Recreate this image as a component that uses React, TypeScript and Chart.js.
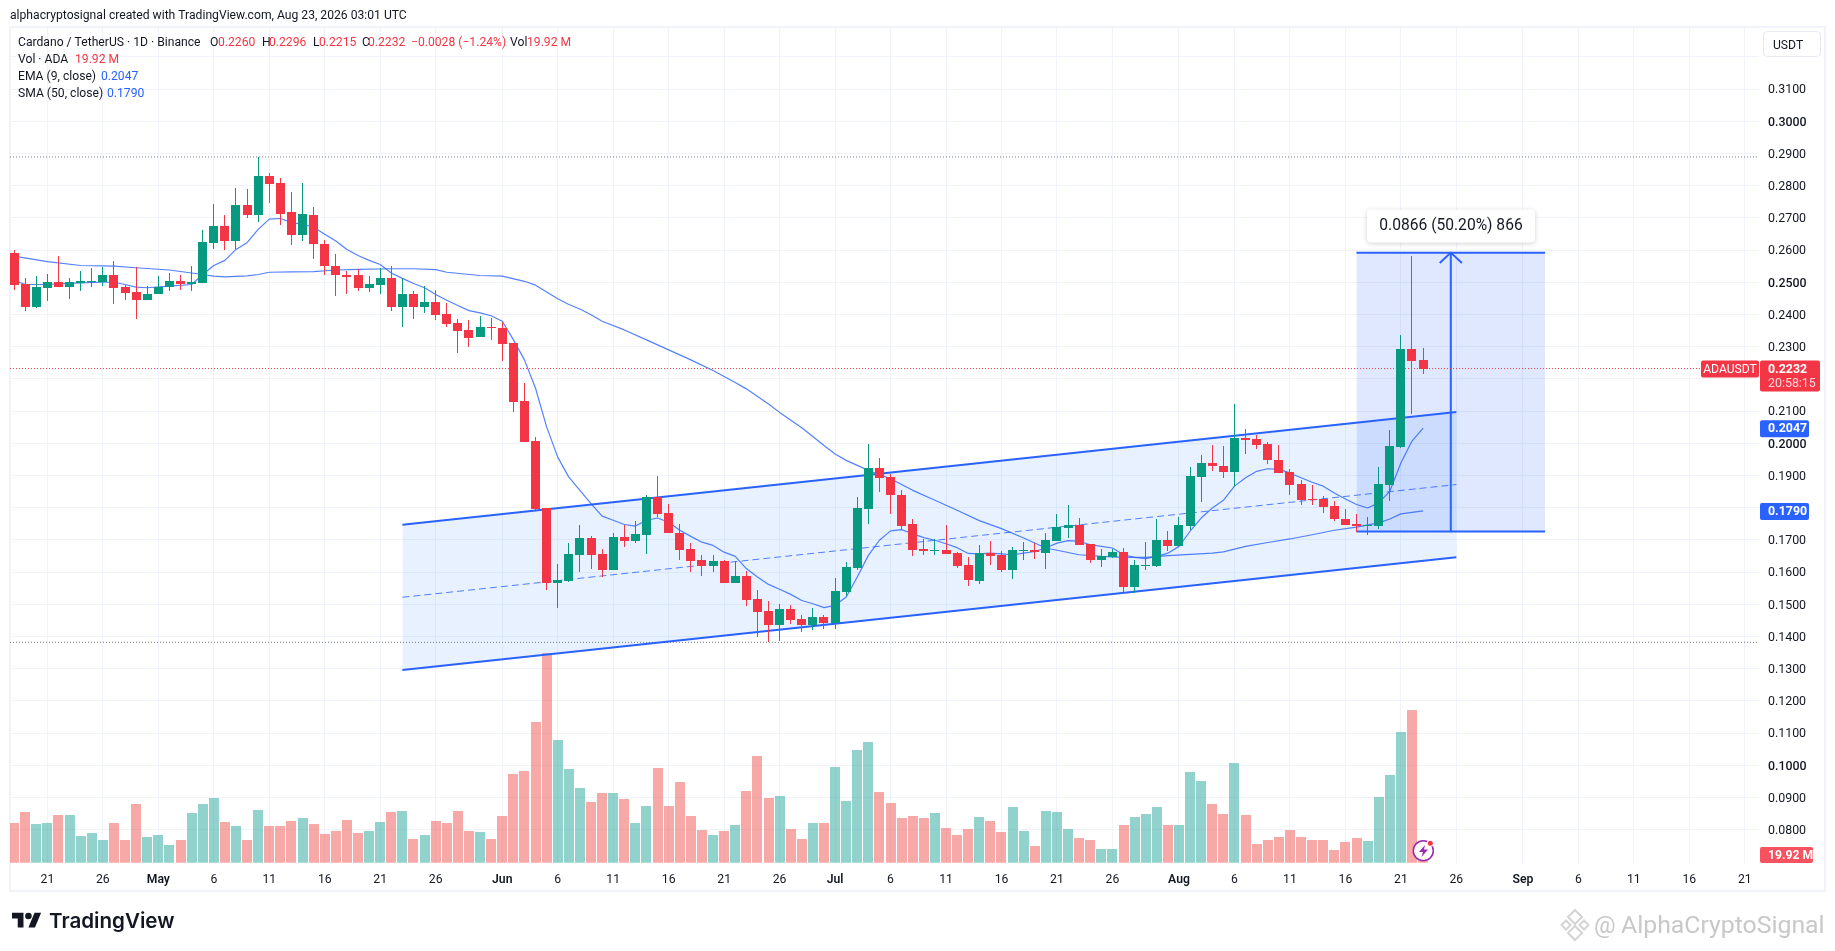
import React, { useEffect, useRef } from "react";
import { Chart, registerables } from "chart.js";

Chart.register(...registerables);

// Daily candles Apr 18 .. Aug 23 (array index = day number)
const opens = [.2590,.2496,.2424,.2481,.2502,.2484,.2499,.2502,.2502,.2524,.2484,.2471,.2446,.2462,.2484,.2505,.2496,.2499,.2621,.2674,.2627,.2740,.2708,.2830,.2808,.2717,.2648,.2708,.2618,.2552,.2524,.2521,.2481,.2493,.2512,.2424,.2465,.2424,.2440,.2403,.2375,.2353,.2331,.2362,.2359,.2312,.2131,.2007,.1799,.1565,.1572,.1652,.1705,.1655,.1606,.1708,.1696,.1714,.1832,.1785,.1723,.1671,.1637,.1618,.1634,.1565,.1587,.1516,.1479,.1435,.1485,.1454,.1435,.1460,.1441,.1537,.1612,.1795,.1922,.1894,.1841,.1748,.1671,.1665,.1668,.1658,.1621,.1573,.1660,.1654,.1607,.1667,.1670,.1660,.1698,.1738,.1747,.1688,.1639,.1648,.1663,.1555,.1620,.1620,.1701,.1682,.1744,.1894,.1940,.1931,.1912,.2015,.2012,.1999,.1947,.1912,.1875,.1828,.1828,.1806,.1766,.1750,.1744,.1744,.1872,.1988,.2292,.2260];
const highs = [.2599,.2512,.2518,.2527,.2580,.2512,.2534,.2543,.2546,.2565,.2490,.2546,.2487,.2518,.2530,.2521,.2552,.2661,.2742,.2708,.2792,.2789,.2889,.2839,.2824,.2780,.2808,.2733,.2630,.2587,.2534,.2540,.2518,.2543,.2549,.2512,.2474,.2487,.2477,.2437,.2387,.2384,.2396,.2390,.2378,.2312,.2188,.2019,.1799,.1624,.1689,.1745,.1711,.1671,.1720,.1745,.1758,.1838,.1900,.1813,.1751,.1689,.1652,.1652,.1637,.1634,.1602,.1544,.1510,.1500,.1497,.1466,.1488,.1466,.1581,.1630,.1832,.1999,.1953,.1906,.1854,.1764,.1702,.1702,.1745,.1664,.1646,.1685,.1698,.1667,.1679,.1695,.1691,.1722,.1779,.1810,.1769,.1688,.1673,.1673,.1676,.1639,.1695,.1766,.1729,.1772,.1925,.1965,.1996,.1993,.2121,.2043,.2027,.2003,.1996,.1919,.1887,.1869,.1835,.1822,.1797,.1782,.1772,.1925,.2040,.2335,.2583,.2296];
const lows = [.2477,.2412,.2421,.2443,.2484,.2449,.2474,.2484,.2487,.2434,.2446,.2387,.2446,.2462,.2474,.2477,.2474,.2499,.2602,.2599,.2602,.2699,.2686,.2746,.2677,.2615,.2627,.2571,.2524,.2456,.2465,.2474,.2471,.2462,.2412,.2362,.2387,.2406,.2384,.2362,.2281,.2300,.2331,.2322,.2256,.2097,.2004,.1792,.1544,.1488,.1570,.1599,.1609,.1584,.1606,.1677,.1689,.1655,.1770,.1720,.1637,.1599,.1587,.1599,.1565,.1565,.1494,.1398,.1382,.1386,.1438,.1413,.1420,.1423,.1423,.1525,.1606,.1751,.1850,.1779,.1730,.1649,.1652,.1652,.1655,.1612,.1557,.1564,.1623,.1601,.1579,.1639,.1642,.1611,.1698,.1707,.1685,.1629,.1617,.1645,.1539,.1536,.1607,.1617,.1667,.1682,.1732,.1819,.1915,.1891,.1863,.1968,.1981,.1937,.1909,.1841,.1810,.1807,.1785,.1760,.1747,.1726,.1716,.1735,.1822,.1985,.2090,.2215];
const closes = [.2491,.2424,.2484,.2502,.2484,.2502,.2505,.2505,.2524,.2481,.2468,.2446,.2465,.2484,.2505,.2496,.2502,.2624,.2674,.2627,.2740,.2708,.2830,.2805,.2711,.2648,.2711,.2618,.2552,.2521,.2515,.2481,.2496,.2512,.2424,.2462,.2424,.2440,.2399,.2371,.2350,.2328,.2362,.2359,.2309,.2128,.2004,.1795,.1565,.1575,.1655,.1705,.1652,.1606,.1708,.1696,.1717,.1832,.1782,.1720,.1668,.1634,.1618,.1634,.1565,.1587,.1513,.1475,.1435,.1485,.1451,.1435,.1460,.1441,.1541,.1615,.1798,.1922,.1891,.1838,.1742,.1668,.1665,.1668,.1655,.1618,.1575,.1660,.1651,.1607,.1670,.1670,.1664,.1701,.1741,.1747,.1685,.1639,.1651,.1663,.1555,.1623,.1623,.1701,.1682,.1747,.1897,.1940,.1931,.1912,.2015,.2009,.1996,.1947,.1909,.1872,.1825,.1825,.1803,.1766,.1747,.1744,.1747,.1875,.1993,.2292,.2257,.2232];
// Volume in millions
const volumes = [300,382,292,300,360,360,202,225,172,300,172,442,195,210,135,172,375,442,487,307,277,172,397,277,277,315,337,292,217,240,322,225,240,307,382,390,180,210,315,300,390,240,232,180,352,667,690,1057,1572,922,705,562,457,525,525,480,300,427,712,427,607,352,247,210,240,285,540,802,487,502,255,180,300,300,720,465,847,907,532,450,337,352,337,375,262,210,255,345,315,232,420,240,127,390,382,255,187,172,105,105,285,345,367,420,285,285,682,615,442,367,750,360,142,172,195,247,195,172,172,97,157,187,165,495,660,982,1147,19.92];

const emaDays = [0.4,1,3,6,8,9,10,11,12,14,16,17,18,19,20,21,22,23,24,25,26,27,28,29,30,31,32,33,34,35,36,37,38,39,40,41,42,43,44,45,46,47,48,49,50,51,52,53,54,55,56,57,58,59,60,61,62,63,64,65,66,67,68,69,70,71,72,73,74,75,76,77,78,79,80,81,82,83,84,85,86,87,88,89,90,91,92,93,94,95,96,97,98,99,100,101,102,103,104,105,106,107,108,109,110,111,112,113,114,115,116,117,118,119,120,121,122,123,124,125,126,127];
const emaValues = [.2501,.2493,.2493,.2498,.2500,.2500,.2493,.2485,.2483,.2488,.2493,.2524,.2552,.2568,.2602,.2623,.2664,.2696,.2698,.2685,.2680,.2671,.2649,.2628,.2602,.2583,.2568,.2555,.2529,.2512,.2496,.2483,.2462,.2444,.2428,.2412,.2405,.2396,.2379,.2322,.2259,.2171,.2051,.1957,.1895,.1854,.1813,.1774,.1761,.1748,.1743,.1761,.1768,.1755,.1730,.1711,.1693,.1683,.1662,.1649,.1611,.1585,.1562,.1547,.1531,.1512,.1502,.1490,.1497,.1523,.1585,.1652,.1699,.1728,.1732,.1719,.1707,.1699,.1688,.1676,.1658,.1657,.1659,.1657,.1654,.1659,.1664,.1675,.1690,.1698,.1696,.1685,.1680,.1675,.1654,.1646,.1642,.1649,.1659,.1680,.1727,.1768,.1799,.1823,.1867,.1893,.1913,.1921,.1919,.1908,.1893,.1879,.1867,.1846,.1827,.1810,.1799,.1815,.1851,.1939,.2007,.2047];
const smaDays = [0.4,3,6,9,11,14,17,18,19,21,22,23,25,27,29,31,34,36,38,39,42,44,46,47,49,50,51,52,53,55,57,59,61,63,65,66,68,69,71,73,74,75,77,79,81,83,85,87,89,91,93,94,96,98,100,102,104,106,108,109,111,113,115,117,119,121,123,124,125,127];
const smaValues = [.2579,.2564,.2552,.2550,.2545,.2538,.2524,.2519,.2517,.2520,.2524,.2531,.2532,.2533,.2538,.2540,.2542,.2542,.2539,.2531,.2521,.2519,.2503,.2491,.2449,.2431,.2417,.2399,.2379,.2352,.2321,.2290,.2259,.2226,.2189,.2169,.2122,.2096,.2048,.1993,.1967,.1947,.1916,.1890,.1854,.1823,.1792,.1760,.1735,.1706,.1675,.1668,.1654,.1649,.1646,.1646,.1651,.1655,.1659,.1663,.1680,.1692,.1703,.1716,.1730,.1740,.1753,.1765,.1781,.1790];

// Parallel channel drawing
const channelDays = [35, 130];
const channelUpper = [.1747, .2097];
const channelMiddle = [.1522, .1872];
const channelLower = [.1296, .1646];
// Price-range measure drawing
const measureDays = [121, 138];
const measureTop = .2592;
const measureBottom = .1726;
const measureCenterDay = 129.5;
const arrowDays = [128.5, 129.5, 130.5];
const arrowValues = [.2560, .2592, .2560];
const measureLabel = "0.0866 (50.20%) 866";
// Horizontal dotted levels
const highLevel = .2889;
const lowLevel = .1382;
const lastPrice = .2232;
const emaLast = .2047;
const smaLast = .1790;

const tickDays = [3,8,13,18,23,28,33,38,44,49,54,59,64,69,74,79,84,89,94,99,105,110,115,120,125,130,136,141,146,151,156];
const tickLabels = ["21","26","May","6","11","16","21","26","Jun","6","11","16","21","26","Jul","6","11","16","21","26","Aug","6","11","16","21","26","Sep","6","11","16","21"];
const monthLabels = ["May","Jun","Jul","Aug","Sep"];
const priceTicks = [.08,.09,.10,.11,.12,.13,.14,.15,.16,.17,.18,.19,.20,.21,.22,.23,.24,.25,.26,.27,.28,.29,.30,.31,.32];
const hiddenPriceTicks = [.32];
const roundPriceTicks = [.10,.20,.25,.30];

const GREEN = "#089981";
const RED = "#F23645";
const BLUE = "#2962FF";
const VOL_GREEN = "rgba(38,166,154,0.5)";
const VOL_RED = "rgba(239,83,80,0.5)";
const TEXT = "#131722";
const GRID = "#f0f3fa";
const FONT = 'Roboto, "Noto Sans", sans-serif';

const X_MIN = -0.37;
const X_MAX = 157.28;

const snapBars = {
  id: "snapBars",
  afterDatasetsUpdate(chart: any) {
    chart.data.datasets.forEach((ds: any, i: number) => {
      if (ds.type !== "bar") return;
      chart.getDatasetMeta(i).data.forEach((el: any) => {
        el.x = ds.snapEven ? Math.round(el.x) : Math.floor(el.x) + 0.5;
        el.y = Math.round(el.y);
        el.base = Math.round(el.base);
        if (Math.abs(el.base - el.y) < 1) el.base = el.y + 1;
      });
    });
  },
  // nudge the price-axis label text onto the reference's optical centre
  beforeDraw(chart: any) {
    const items = chart.scales.y.getLabelItems();
    items.forEach((it: any) => {
      if (it.nudged) return;
      it.nudged = true;
      it.options = { ...it.options, translation: [it.options.translation[0], it.options.translation[1] + 1.2] };
    });
  },
};

function txt(ctx: any, s: string, x: number, y: number, color: string, font = `12.15px ${FONT}`, align = "left") {
  ctx.font = font;
  ctx.fillStyle = color;
  ctx.textAlign = align;
  ctx.textBaseline = "middle";
  ctx.fillText(s, x, y);
}

function badge(ctx: any, x0: number, x1: number, y0: number, y1: number, color: string) {
  ctx.fillStyle = color;
  ctx.beginPath();
  ctx.roundRect(x0, y0, x1 - x0, y1 - y0, 2);
  ctx.fill();
}

const overlay = {
  id: "overlay",
  beforeDraw(chart: any) {
    const ctx = chart.ctx;
    ctx.save();
    ctx.fillStyle = "#ffffff";
    ctx.fillRect(0, 0, 1835, 951);
    ctx.strokeStyle = GRID;
    ctx.lineWidth = 2;
    ctx.strokeRect(10, 27, 1815, 864);
    ctx.restore();
  },
  afterDraw(chart: any) {
    const ctx = chart.ctx;
    const y = chart.scales.y;
    ctx.save();
    // Header
    txt(ctx, "alphacryptosignal created with TradingView.com, Aug 23, 2026 03:01 UTC", 10, 16, TEXT);
    // Legend
    const L1 = 43, L2 = 60, L3 = 77, L4 = 94;
    txt(ctx, "Cardano / TetherUS · 1D · Binance", 18, L1, TEXT);
    const pairs: [string, number, string][] = [
      ["O", 210, TEXT], ["0.2260", 218, RED], ["H", 262, TEXT], ["0.2296", 269, RED], ["L", 313, TEXT], ["0.2215", 319, RED],
      ["C", 362, TEXT], ["0.2232", 368, RED], ["−0.0028 (−1.24%)", 411, RED], ["Vol", 510, TEXT], ["19.92 M", 527, RED],
    ];
    pairs.forEach(([s, x, c]) => txt(ctx, s, x, L1, c));
    txt(ctx, "Vol · ADA", 18, L2, TEXT);
    txt(ctx, "19.92 M", 75, L2, RED);
    txt(ctx, "EMA (9, close)", 18, L3, TEXT);
    txt(ctx, "0.2047", 101, L3, BLUE);
    txt(ctx, "SMA (50, close)", 18, L4, TEXT);
    txt(ctx, "0.1790", 107, L4, BLUE);

    // USDT button
    ctx.fillStyle = "#fff";
    ctx.strokeStyle = "#e6e9f0";
    ctx.lineWidth = 1;
    ctx.beginPath();
    ctx.roundRect(1763.5, 31.5, 57, 25, 4);
    ctx.fill();
    ctx.stroke();
    txt(ctx, "USDT", 1773, 46, TEXT);

    // Price axis badges
    const py = y.getPixelForValue(lastPrice);
    badge(ctx, 1701, 1759, py - 8, py + 9, RED);
    txt(ctx, "ADAUSDT", 1730, py + 1, "#fff", `12.15px ${FONT}`, "center");
    badge(ctx, 1760, 1820, py - 8, py + 23, RED);
    txt(ctx, "0.2232", 1768, py + 1, "#fff", `bold 12.4px ${FONT}`);
    txt(ctx, "20:58:15", 1768, py + 15, "#ffd5d9", `12.4px ${FONT}`);
    [[emaLast, "0.2047"], [smaLast, "0.1790"]].forEach(([v, s]: any) => {
      const ey = y.getPixelForValue(v);
      badge(ctx, 1760, 1809, ey - 8, ey + 9, BLUE);
      txt(ctx, s, 1768, ey + 1, "#fff", `bold 12.4px ${FONT}`);
    });
    badge(ctx, 1760, 1813, 847, 863, "#F7525F");
    txt(ctx, "19.92 M", 1768, 856, "#fff", `bold 12.2px ${FONT}`);

    // Measure label
    ctx.save();
    ctx.shadowColor = "rgba(0,0,0,0.18)";
    ctx.shadowBlur = 5;
    ctx.shadowOffsetY = 1;
    ctx.fillStyle = "#fff";
    ctx.beginPath();
    ctx.roundRect(1367, 209.5, 168, 33, 4);
    ctx.fill();
    ctx.restore();
    txt(ctx, measureLabel, 1451, 226.5, TEXT, `15.6px ${FONT}`, "center");

    // Lightning icon
    ctx.beginPath();
    ctx.arc(1423.3, 850.7, 10, 0, Math.PI * 2);
    ctx.fillStyle = "#fff";
    ctx.fill();
    ctx.strokeStyle = "#9C27B0";
    ctx.lineWidth = 1.5;
    ctx.stroke();
    ctx.fillStyle = "#9C27B0";
    ctx.beginPath();
    ctx.moveTo(1425, 845);
    ctx.lineTo(1419, 852);
    ctx.lineTo(1423, 852);
    ctx.lineTo(1421.5, 857);
    ctx.lineTo(1428, 849.5);
    ctx.lineTo(1424, 849.5);
    ctx.closePath();
    ctx.fill();
    ctx.fillStyle = "#fff";
    ctx.beginPath();
    ctx.arc(1430.3, 843.3, 3.5, 0, Math.PI * 2);
    ctx.fill();
    ctx.fillStyle = RED;
    ctx.beginPath();
    ctx.arc(1430.3, 843.3, 2.5, 0, Math.PI * 2);
    ctx.fill();

    // TradingView logo
    ctx.save();
    ctx.translate(12, 909.5);
    ctx.scale(0.82, 0.82);
    ctx.fillStyle = TEXT;
    ctx.fill(new Path2D("M14 22H7V11H0V4h14v18zM28 22h-8l7.5-18h8L28 22z"));
    ctx.beginPath();
    ctx.arc(20, 8, 4, 0, Math.PI * 2);
    ctx.fill();
    ctx.restore();
    txt(ctx, "TradingView", 49, 921.5, TEXT, `600 20.6px Inter, ${FONT}`);

    // Watermark
    ctx.strokeStyle = "#d4d4d4";
    ctx.lineWidth = 2;
    [[1575, 917, 7], [1566, 925, 4.5], [1584, 925, 4.5], [1575, 933, 7]].forEach(([cx, cy, r]) => {
      ctx.beginPath();
      ctx.moveTo(cx, cy - r);
      ctx.lineTo(cx + r, cy);
      ctx.lineTo(cx, cy + r);
      ctx.lineTo(cx - r, cy);
      ctx.closePath();
      ctx.stroke();
    });
    txt(ctx, "@", 1594, 927, "#c8c8c8", `24px ${FONT}`);
    txt(ctx, "AlphaCryptoSignal", 1621, 927, "#c8c8c8", `24.8px ${FONT}`);
    ctx.restore();
  },
};

function flat(days: number[], v: number) {
  return days.map((x) => ({ x, y: v }));
}

export default function App() {
  const ref = useRef<HTMLCanvasElement | null>(null);
  useEffect(() => {
    const lineBase = { type: "line", pointRadius: 0, borderJoinStyle: "round", tension: 0, fill: false };
    const up = opens.map((o, i) => closes[i] >= o);
    const span = [X_MIN, X_MAX];
    const chart = new Chart(ref.current as HTMLCanvasElement, {
      type: "line",
      plugins: [snapBars, overlay],
      data: {
        datasets: [
          {
            type: "bar", label: "Bodies", order: 1, yAxisID: "y", barThickness: 9, grouped: false, inflateAmount: 0, borderWidth: 0,
            data: opens.map((o, i) => ({ x: i, y: [o, closes[i]] })),
            backgroundColor: up.map((u) => (u ? GREEN : RED)),
          },
          {
            type: "bar", label: "Wicks", order: 2, yAxisID: "y", barThickness: 1, grouped: false, inflateAmount: 0, borderWidth: 0,
            data: lows.map((l, i) => ({ x: i, y: [l, highs[i]] })),
            backgroundColor: up.map((u) => (u ? GREEN : RED)),
          },
          { ...lineBase, label: "EMA", order: 4, yAxisID: "y", borderColor: "rgba(41,98,255,0.8)", borderWidth: 1.2,
            data: emaDays.map((x, i) => ({ x, y: emaValues[i] })) },
          { ...lineBase, label: "SMA", order: 5, yAxisID: "y", borderColor: "rgba(41,98,255,0.8)", borderWidth: 1.2,
            data: smaDays.map((x, i) => ({ x, y: smaValues[i] })) },
          { ...lineBase, label: "Channel upper", order: 8, yAxisID: "y", borderColor: BLUE, borderWidth: 2,
            fill: { target: "+2" }, backgroundColor: "rgba(41,120,255,0.105)",
            data: channelDays.map((x, i) => ({ x, y: channelUpper[i] })) },
          { ...lineBase, label: "Channel middle", order: 7, yAxisID: "y", borderColor: "rgba(41,98,255,0.8)", borderWidth: 1, borderDash: [7, 4],
            data: channelDays.map((x, i) => ({ x, y: channelMiddle[i] })) },
          { ...lineBase, label: "Channel lower", order: 7, yAxisID: "y", borderColor: BLUE, borderWidth: 2,
            data: channelDays.map((x, i) => ({ x, y: channelLower[i] })) },
          { ...lineBase, label: "Measure top", order: 10, yAxisID: "y", borderColor: BLUE, borderWidth: 2,
            fill: { target: "+1" }, backgroundColor: "rgba(41,98,255,0.15)", data: flat(measureDays, measureTop) },
          { ...lineBase, label: "Measure bottom", order: 9.5, yAxisID: "y", borderColor: BLUE, borderWidth: 2, data: flat(measureDays, measureBottom) },
          { ...lineBase, label: "Measure shaft", order: 6, yAxisID: "y", borderColor: BLUE, borderWidth: 2,
            data: [{ x: measureCenterDay, y: measureBottom }, { x: measureCenterDay, y: measureTop }] },
          { ...lineBase, label: "Measure arrow", order: 6, yAxisID: "y", borderColor: BLUE, borderWidth: 2,
            data: arrowDays.map((x, i) => ({ x, y: arrowValues[i] })) },
          { ...lineBase, label: "High", order: 11, yAxisID: "y", borderColor: "#787b86", borderWidth: 1, borderDash: [1, 2], data: flat(span, highLevel) },
          { ...lineBase, label: "Low", order: 11, yAxisID: "y", borderColor: "#787b86", borderWidth: 1, borderDash: [1, 2], data: flat(span, lowLevel) },
          { ...lineBase, label: "Last", order: 3, yAxisID: "y", borderColor: RED, borderWidth: 1, borderDash: [1, 2], data: flat(span, lastPrice) },
          {
            type: "bar", label: "Volume", order: 20, yAxisID: "v", barThickness: 10, grouped: false, inflateAmount: 0, borderWidth: 0, snapEven: true,
            data: volumes.map((v, i) => ({ x: i, y: v })),
            backgroundColor: up.map((u) => (u ? VOL_GREEN : VOL_RED)),
          },
        ] as any,
      },
      options: {
        responsive: false,
        animation: false,
        events: [],
        layout: { padding: { left: 10, top: 27, right: 10, bottom: 60 } },
        plugins: { legend: { display: false }, tooltip: { enabled: false } },
        scales: {
          x: {
            type: "linear", min: X_MIN, max: X_MAX, offset: false,
            grid: { color: GRID, offset: false, drawTicks: false },
            border: { display: false },
            afterBuildTicks: (axis: any) => { axis.ticks = tickDays.map((value) => ({ value })); },
            afterFit: (axis: any) => { axis.height = 28.3; },
            ticks: {
              autoSkip: false, maxRotation: 0, padding: 10, color: TEXT,
              callback: (v: any) => tickLabels[tickDays.indexOf(Number(v))],
              font: (c: any) => ({
                family: FONT, size: 12.2,
                weight: monthLabels.includes(tickLabels[tickDays.indexOf(c.tick?.value)]) ? "600" : "400",
              }),
            },
          },
          y: {
            type: "linear", position: "right", min: 0.06979, max: 0.32925,
            grid: { color: GRID, drawTicks: false },
            border: { display: false },
            afterBuildTicks: (axis: any) => { axis.ticks = priceTicks.map((value) => ({ value })); },
            afterFit: (axis: any) => { axis.width = 66; },
            ticks: {
              autoSkip: false, padding: 9, color: TEXT,
              callback: (v: any) => (hiddenPriceTicks.includes(Number(v)) ? "" : Number(v).toFixed(4)),
              font: (c: any) => ({ family: FONT, size: 12.4, weight: roundPriceTicks.includes(c.tick?.value) ? "500" : "400" }),
            },
          },
          v: { type: "linear", display: false, min: 0, max: 6268 },
        },
      } as any,
    } as any);
    return () => chart.destroy();
  }, []);
  return (
    <div style={{ position: "fixed", left: 0, top: 0, width: 1835, height: 951, background: "#fff" }}>
      <canvas ref={ref} width={1835} height={951} style={{ display: "block" }} />
    </div>
  );
}
